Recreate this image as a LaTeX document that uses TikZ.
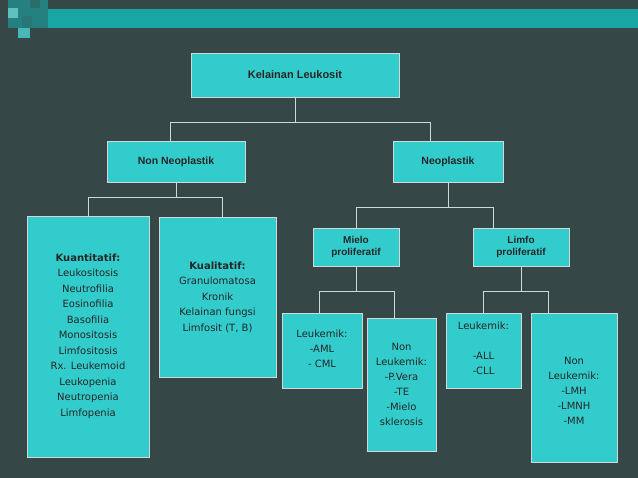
\documentclass[tikz,border=0pt]{standalone}
\usepackage{fontspec}
\setmainfont{Liberation Sans}
\newfontfamily\cf{DejaVu Sans}
\definecolor{bg}{HTML}{354747}
\definecolor{bx}{HTML}{33CCCC}
\definecolor{bar}{HTML}{1AA5A5}
\definecolor{ln}{HTML}{D0D8D8}
\begin{document}
\begin{tikzpicture}[x=1pt,y=-1pt,
  bxs/.style={fill=bx,draw=ln,line width=0.8pt,text=black!85,align=center,inner sep=0pt},
  con/.style={draw=ln,line width=0.8pt}]
\fill[bg] (0,0) rectangle (638,478);
\useasboundingbox (0,0) rectangle (638,478);
% banner
\fill[bar] (40,9) rectangle (638,28);
\fill[bar!60!bg] (8,0) rectangle (48,28);
\fill[bar!70] (8,8) rectangle (18,18);
\fill[bar!50!bg] (22,16) rectangle (32,28);
\fill[bar!80] (18,28) rectangle (30,38);
\fill[bar!40!bg] (30,0) rectangle (40,8);
% boxes
\node[bxs,minimum width=208,minimum height=44,font=\bfseries\fontsize{11}{13}\selectfont] (top) at (295,75) {Kelainan Leukosit};
\node[bxs,minimum width=138,minimum height=41,font=\bfseries\fontsize{10.5}{13}\selectfont] (nn) at (176,161.5) {Non Neoplastik};
\node[bxs,minimum width=110,minimum height=41,font=\bfseries\fontsize{10.5}{13}\selectfont] (np) at (448,161.5) {Neoplastik};
\node[bxs,minimum width=122,minimum height=241,font=\cf\fontsize{10}{15.5}\selectfont,anchor=north,text depth=0] (kn) at (88,216) {\\[-12pt]{\bfseries Kuantitatif:}\\Leukositosis\\Neutrofilia\\Eosinofilia\\Basofilia\\Monositosis\\Limfositosis\\Rx. Leukemoid\\Leukopenia\\Neutropenia\\Limfopenia};
\node[bxs,minimum width=117,minimum height=160,font=\cf\fontsize{10}{15.5}\selectfont] (kl) at (217.5,297) {{\bfseries Kualitatif:}\\Granulomatosa\\Kronik\\Kelainan fungsi\\Limfosit (T, B)};
\node[bxs,minimum width=86,minimum height=38,font=\bfseries\fontsize{10}{12.5}\selectfont] (mi) at (356,247) {Mielo\\proliferatif};
\node[bxs,minimum width=96,minimum height=38,font=\bfseries\fontsize{10}{12.5}\selectfont] (li) at (521,247) {Limfo\\proliferatif};
\node[bxs,minimum width=80,minimum height=75,font=\cf\fontsize{10}{15}\selectfont,anchor=north] (l1) at (322,313) {\\[-12pt]Leukemik:\\-AML\\- CML};
\node[bxs,minimum width=69,minimum height=133,font=\cf\fontsize{10}{15}\selectfont,anchor=north] (n1) at (401.5,318) {\\[-8pt]Non\\Leukemik:\\-P.Vera\\-TE\\-Mielo\\sklerosis};
\node[bxs,minimum width=75,minimum height=75,font=\cf\fontsize{10}{15}\selectfont,anchor=north] (l2) at (483.5,313) {\\[-12pt]Leukemik:\\\\-ALL\\-CLL};
\node[bxs,minimum width=86,minimum height=149,font=\cf\fontsize{10}{15}\selectfont,anchor=north] (n2) at (574,313) {\\[-1pt]Non\\Leukemik:\\-LMH\\-LMNH\\-MM};
% connectors
\draw[con] (top.south) -- ++(0,25) coordinate (a);
\draw[con] (nn.north -| 170,0) -- (170,122) -- (430,122) -- (np.north -| 430,0);
\draw[con] (nn.south) -- (176,197);
\draw[con] (kn.north) -- (88,197) -- (222,197) -- (222,217);
\draw[con] (np.south) -- (448,207);
\draw[con] (mi.north) -- (356,207) -- (493,207) -- (493,228);
\draw[con] (mi.south) -- (356,291);
\draw[con] (319,313) -- (319,291) -- (394,291) -- (394,318);
\draw[con] (li.south) -- (521,291);
\draw[con] (483,313) -- (483,291) -- (548,291) -- (548,313);
\end{tikzpicture}
\end{document}
